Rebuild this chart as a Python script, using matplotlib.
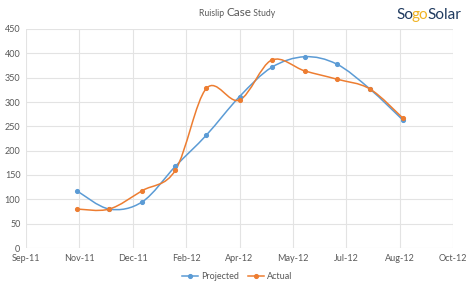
import numpy as np
import pandas as pd
import matplotlib
matplotlib.use("Agg")
import matplotlib.pyplot as plt
import matplotlib.dates as mdates
from matplotlib.path import Path
from matplotlib.patches import PathPatch
from matplotlib.offsetbox import TextArea, HPacker, AnnotationBbox

months = ["2011-11", "2011-12", "2012-01", "2012-02", "2012-03", "2012-04",
          "2012-05", "2012-06", "2012-07", "2012-08", "2012-09"]
projected = [117, 80, 95, 168, 232, 311, 371, 393, 378, 327, 263]
actual = [80, 80, 118, 160, 328, 304, 386, 364, 347, 327, 267]
axis_start = "2011-09-14"
tick_step_days = 50
n_ticks = 9

BLUE = "#5B9BD5"
ORANGE = "#ED7D31"
GREY = "#595959"
GRID = "#E3E3E3"
NAVY = "#1F3A5F"
GOLD = "#F0B323"

plt.rcParams["font.family"] = ["Lato", "DejaVu Sans"]


def smooth_path(x, y):
    # Excel-style smoothed line: Catmull-Rom as cubic Bezier
    pts = np.column_stack([x, y])
    n = len(pts)
    verts = [pts[0]]
    codes = [Path.MOVETO]
    for i in range(n - 1):
        p0 = pts[i - 1] if i > 0 else pts[i]
        p1 = pts[i]
        p2 = pts[i + 1]
        p3 = pts[i + 2] if i + 2 < n else pts[i + 1]
        c1 = p1 + (p2 - p0) / 6
        c2 = p2 - (p3 - p1) / 6
        verts += [c1, c2, p2]
        codes += [Path.CURVE4] * 3
    return Path(verts, codes)


dates = pd.to_datetime(months)
xnum = mdates.date2num(dates)
ticks = pd.to_datetime(axis_start) + pd.to_timedelta(np.arange(n_ticks) * tick_step_days, unit="D")

fig = plt.figure(figsize=(4.74, 2.89), dpi=100)
ax = fig.add_axes([26 / 474, 1 - 248 / 289, 427 / 474, 219 / 289])

for vals, col, lab in [(projected, BLUE, "Projected"), (actual, ORANGE, "Actual")]:
    ax.add_patch(PathPatch(smooth_path(xnum, np.array(vals, float)), facecolor="none",
                           edgecolor=col, lw=1.1, zorder=3))
    ax.plot(dates, vals, ls="none", marker="o", ms=2.7, color=col, zorder=4)
    ax.plot([], [], color=col, lw=1.1, marker="o", ms=2.7, label=lab)

ax.set_xticks(ticks)
ax.xaxis.set_major_formatter(mdates.DateFormatter("%b-%y"))
ax.set_xlim(ticks[0], ticks[-1])
ax.set_ylim(0, 450)
ax.set_yticks(np.arange(0, 451, 50))
ax.grid(True, color=GRID, lw=0.8)
ax.set_axisbelow(True)
for s in ax.spines.values():
    s.set_visible(False)
ax.tick_params(length=0, labelsize=6.5, colors=GREY, pad=4)

fig.legend(loc="lower center", bbox_to_anchor=(0.5, 0.0), ncol=2, frameon=False,
           fontsize=6.5, labelcolor=GREY, handlelength=1.8, columnspacing=1.0,
           handletextpad=0.3)

# title with mixed sizes
parts = [("Ruislip ", 6.2), ("Case", 8.5), (" Study", 6.2)]
row = HPacker(children=[TextArea(t, textprops=dict(fontsize=fs, color=GREY)) for t, fs in parts],
              align="baseline", pad=0, sep=0)
fig.add_artist(AnnotationBbox(row, (237, 289 - 13), xycoords="figure pixels",
                              box_alignment=(0.5, 0.5), frameon=False, pad=0))

# logo: pieces placed side by side, pulled slightly closer than the extents say
fig.canvas.draw()
r = fig.canvas.get_renderer()
fs_logo = 11


def w(s):
    t = fig.text(0, 0, s, fontsize=fs_logo)
    out = t.get_window_extent(r).width
    t.remove()
    return out


tighten = w("So") + w("go") - w("Sogo") + 1.0
x = 396
ly = 1 - 19 / 289
for s, c in [("So", NAVY), ("go", GOLD), ("Solar", NAVY)]:
    fig.text(x / 474, ly, s, fontsize=fs_logo, color=c, va="baseline")
    x += w(s) - tighten

fig.savefig("out.png", dpi=100)
